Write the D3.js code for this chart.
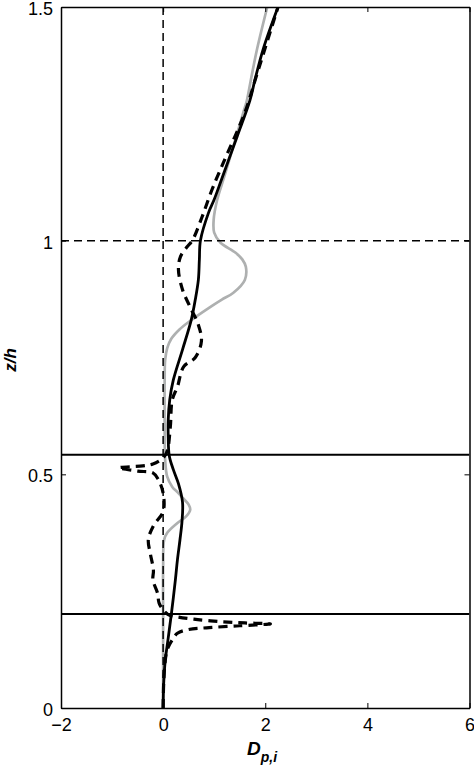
<!DOCTYPE html>
<html>
<head>
<meta charset="utf-8">
<script src="https://cdn.jsdelivr.net/npm/d3@7"></script>
<style>
html,body{margin:0;padding:0;background:#fff;}
svg{display:block;}
</style>
</head>
<body>
<svg id="chart" width="474" height="768"></svg>
<script>
// ---- data ----
const xTicks = [-2, 0, 2, 4, 6];
const yTicks = [0, 0.5, 1, 1.5];
const xTickLabels = ["\u22122", "0", "2", "4", "6"];
const yTickLabels = ["0", "0.5", "1", "1.5"];
const hLinesSolid = [0.201, 0.542];
const hLinesDashed = [1.0];
const vLinesDashed = [0];

// black solid curve: z values and D values
const solidZ = [0, 0.05, 0.1, 0.15, 0.2, 0.274, 0.317, 0.36, 0.4, 0.44, 0.48, 0.51, 0.54, 0.58, 0.617, 0.66, 0.702, 0.767, 0.83, 0.874, 0.916, 0.96, 1.0, 1.06, 1.088, 1.13, 1.223, 1.30, 1.345, 1.41, 1.5];
const solidD = [0, 0.01, 0.04, 0.1, 0.16, 0.24, 0.28, 0.33, 0.37, 0.38, 0.3, 0.2, 0.12, 0.1, 0.1, 0.13, 0.2, 0.38, 0.55, 0.63, 0.69, 0.71, 0.73, 0.89, 1.0, 1.14, 1.45, 1.7, 1.8, 1.96, 2.25];

// black dashed curve
const dashZ = [0, 0.05, 0.1, 0.125, 0.146, 0.16, 0.168, 0.172, 0.176, 0.18, 0.182, 0.185, 0.19, 0.195, 0.2, 0.21, 0.225, 0.246, 0.274, 0.295, 0.33, 0.36, 0.39, 0.42, 0.46, 0.49, 0.503, 0.507, 0.514, 0.518, 0.522, 0.535, 0.55, 0.6, 0.66, 0.687, 0.73, 0.75, 0.785, 0.82, 0.86, 0.895, 0.938, 0.966, 0.987, 1.0, 1.05, 1.11, 1.167, 1.274, 1.35, 1.5];
const dashD = [0, 0.01, 0.04, 0.08, 0.18, 0.28, 0.5, 0.9, 1.5, 2.1, 1.6, 1.1, 0.6, 0.28, 0.1, 0.0, -0.08, -0.11, -0.2, -0.19, -0.25, -0.29, -0.19, 0.0, 0.0, -0.1, -0.2, -0.5, -0.87, -0.4, -0.2, 0.0, 0.08, 0.14, 0.18, 0.28, 0.4, 0.63, 0.75, 0.69, 0.52, 0.38, 0.3, 0.34, 0.47, 0.57, 0.76, 0.96, 1.18, 1.6, 1.82, 2.25];

// gray curve
const grayZ = [0, 0.1, 0.2, 0.3, 0.36, 0.375, 0.396, 0.41, 0.424, 0.435, 0.45, 0.462, 0.473, 0.495, 0.53, 0.6, 0.7, 0.745, 0.77, 0.79, 0.81, 0.83, 0.86, 0.874, 0.888, 0.916, 0.944, 0.96, 0.974, 0.996, 1.017, 1.045, 1.088, 1.131, 1.167, 1.274, 1.30, 1.345, 1.41, 1.5];
const grayD = [0, 0, 0, 0, 0.02, 0.08, 0.28, 0.45, 0.53, 0.5, 0.38, 0.28, 0.18, 0.08, 0.04, 0.03, 0.03, 0.04, 0.08, 0.16, 0.32, 0.55, 0.95, 1.15, 1.37, 1.6, 1.62, 1.55, 1.42, 1.12, 1.0, 0.99, 1.06, 1.18, 1.28, 1.57, 1.64, 1.72, 1.84, 2.04];

// ---- layout ----
const L = 61, R = 469.5, T = 7, B = 708;
const svg = d3.select("#chart");
const x = d3.scaleLinear().domain([-2, 6]).range([L, R]);
const y = d3.scaleLinear().domain([0, 1.5]).range([B, T]);

const defs = svg.append("defs");
defs.append("clipPath").attr("id", "clip")
  .append("rect").attr("x", L).attr("y", T).attr("width", R - L).attr("height", B - T);

const plot = svg.append("g").attr("clip-path", "url(#clip)");

const line = d3.line().curve(d3.curveCatmullRom.alpha(0.5));
const mk = (Z, D) => Z.map((z, i) => [x(D[i]), y(z)]);

// gray curve
plot.append("path").attr("d", line(mk(grayZ, grayD)))
  .attr("fill", "none").attr("stroke", "#aeb0b0").attr("stroke-width", 2.7);

// reference dashed lines
hLinesDashed.forEach(v => plot.append("line")
  .attr("x1", L).attr("x2", R).attr("y1", y(v)).attr("y2", y(v))
  .attr("stroke", "#000").attr("stroke-width", 1.5).attr("stroke-dasharray", "8,5"));
vLinesDashed.forEach(v => plot.append("line")
  .attr("x1", x(v)).attr("x2", x(v)).attr("y1", T).attr("y2", B)
  .attr("stroke", "#000").attr("stroke-width", 1.5).attr("stroke-dasharray", "8,5"));

// dashed black curve
plot.append("path").attr("d", line(mk(dashZ, dashD)))
  .attr("fill", "none").attr("stroke", "#000").attr("stroke-width", 3.2)
  .attr("stroke-dasharray", "9,6");

// solid black curve
plot.append("path").attr("d", line(mk(solidZ, solidD)))
  .attr("fill", "none").attr("stroke", "#000").attr("stroke-width", 2.8);

// horizontal solid lines
hLinesSolid.forEach(v => plot.append("line")
  .attr("x1", L).attr("x2", R).attr("y1", y(v)).attr("y2", y(v))
  .attr("stroke", "#000").attr("stroke-width", 2));

// ---- axes ----
const font = "'Liberation Sans', Arial, Helvetica, sans-serif";
const xAxisB = d3.axisBottom(x).tickValues(xTicks).tickSizeInner(-5).tickSizeOuter(0)
  .tickFormat((d, i) => xTickLabels[i]).tickPadding(10);
const gxb = svg.append("g").attr("transform", `translate(0,${B})`).call(xAxisB);
const xAxisT = d3.axisTop(x).tickValues(xTicks).tickSizeInner(-5).tickSizeOuter(0).tickFormat("");
const gxt = svg.append("g").attr("transform", `translate(0,${T})`).call(xAxisT);
const yAxisL = d3.axisLeft(y).tickValues(yTicks).tickSizeInner(-5).tickSizeOuter(0)
  .tickFormat((d, i) => yTickLabels[i]).tickPadding(8);
const gyl = svg.append("g").attr("transform", `translate(${L},0)`).call(yAxisL);
const yAxisR = d3.axisRight(y).tickValues(yTicks).tickSizeInner(-5).tickSizeOuter(0).tickFormat("");
const gyr = svg.append("g").attr("transform", `translate(${R},0)`).call(yAxisR);

[gxb, gxt, gyl, gyr].forEach(g => {
  g.select(".domain").attr("stroke", "#000").attr("stroke-width", 1.5);
  g.selectAll(".tick line").attr("stroke", "#000").attr("stroke-width", 1);
  g.selectAll("text").attr("font-family", font).attr("font-size", 18).attr("fill", "#000");
});
gyl.selectAll("text").attr("dy", "0.42em");

// axis labels
const xl = svg.append("text").attr("x", 262).attr("y", 755)
  .attr("text-anchor", "middle").attr("font-family", font)
  .attr("font-weight", "bold").attr("font-style", "italic").attr("font-size", 19);
xl.append("tspan").text("D");
xl.append("tspan").attr("dy", 7).attr("font-size", 14).text("p,i");

svg.append("text").attr("transform", "translate(16,360) rotate(-90)")
  .attr("text-anchor", "middle").attr("font-family", font)
  .attr("font-weight", "bold").attr("font-style", "italic").attr("font-size", 17)
  .text("z/h");
</script>
</body>
</html>
